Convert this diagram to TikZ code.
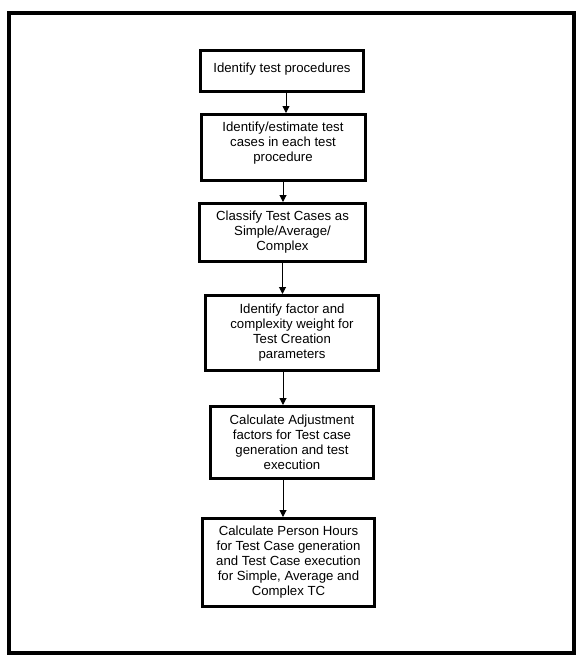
\documentclass[tikz,border=0pt]{standalone}
\usepackage{fontspec}
\setmainfont{Liberation Sans}
\usepackage{tikz}
\usetikzlibrary{arrows.meta}

\begin{document}
\begin{tikzpicture}[x=1pt,y=-1pt,
  stage/.style={draw=black, line width=3pt, inner sep=0pt, align=center,
    font=\fontsize{13.2}{15}\selectfont},
  flow/.style={line width=1pt, -{Triangle[length=7pt,width=7pt]}}]
\useasboundingbox (0,0) rectangle (587,664);
\draw[line width=4pt] (9,13) rectangle (574,653);

\node[stage, minimum width=163pt, minimum height=41.5pt, text depth=6pt] (procs) at (282,71) {Identify test procedures};
\node[stage, minimum width=164pt, minimum height=66pt] (cases) at (283,147.5) {Identify/estimate test\\cases in each test\\procedure\\[-4pt]~};
\node[stage, minimum width=166pt, minimum height=58pt] (classify) at (282.5,232.5) {Classify Test Cases as\\Simple/Average/\\Complex};
\node[stage, minimum width=173pt, minimum height=75pt] (weight) at (292,333) {Identify factor and\\complexity weight for\\Test Creation\\parameters};
\node[stage, minimum width=163pt, minimum height=72pt] (adjust) at (292,442.5) {Calculate Adjustment\\factors for Test case\\generation and test\\execution};
\node[stage, minimum width=172pt, minimum height=88pt] (hours) at (288.5,562.5) {Calculate Person Hours\\for Test Case generation\\and Test Case execution\\for Simple, Average and\\Complex TC};

\draw[flow] (procs.south -| cases) ++(3,0) -- ([xshift=3pt]cases.north);
\draw[flow] (cases.south) -- (classify.north -| cases);
\draw[flow] (classify.south) -- (weight.north -| classify);
\draw[flow] (weight.south -| cases) -- (adjust.north -| cases);
\draw[flow] (adjust.south -| cases) -- (hours.north -| cases);
\end{tikzpicture}
\end{document}
